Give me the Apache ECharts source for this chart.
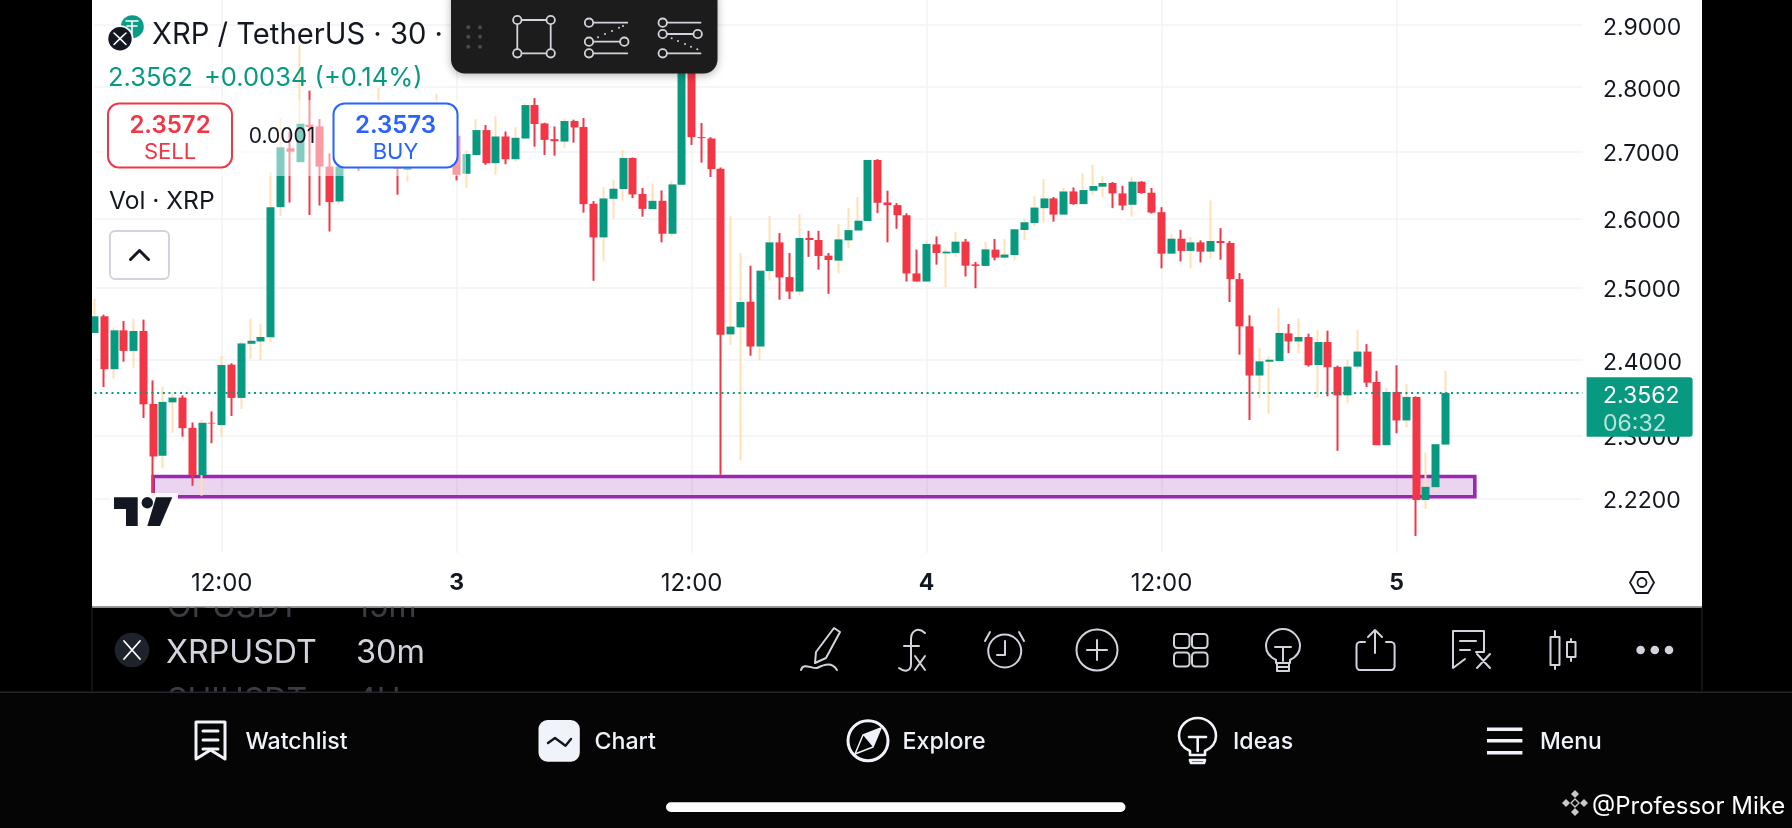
<!doctype html>
<html lang="en">
<head>
	<meta charset="UTF-8">
	<title>XRP / TetherUS 30m</title>
	<style>
		html, body { margin: 0; padding: 0; background: #000; }
		#main { width: 1792px; height: 828px; }
	</style>
	<script src="https://cdn.jsdelivr.net/npm/echarts@6/dist/echarts.min.js"></script>
</head>
<body>
<div id="main"></div>
<script type="text/javascript">
	// bars 30m (those behind the BUY box are estimated)
	var opens = [2.4373,2.4603,2.3879,2.4409,2.4127,2.44,2.3415,2.274,2.3436,2.3499,2.3101,2.2493,2.3167,
		2.3137,2.394,2.3495,2.4224,2.4256,2.4312,2.6167,2.7051,2.684,2.7414,2.7387,2.6774,2.6251,
		2.6815,2.7149,2.7025,2.718,2.7414,2.7103,2.6725,2.7258,2.7103,2.7336,2.7569,2.7243,
		2.6665,2.6949,2.7331,2.6825,2.7232,2.6885,2.7201,2.772,2.7434,2.7191,2.7154,2.7471,2.7378,
		2.6217,2.5724,2.6291,2.6436,2.6904,2.6362,2.6138,2.6261,2.5777,2.6501,2.8439,2.7222,2.7201,
		2.674,2.4353,2.445,2.4806,2.4187,2.524,2.5652,2.5154,2.4949,2.5715,2.5686,2.546,2.5388,
		2.5681,2.5824,2.5964,2.6874,2.6236,2.6197,2.6048,2.5206,2.5091,2.5623,2.5493,2.5499,2.5662,
		2.5335,2.5313,2.5547,2.5432,2.5469,2.5832,2.5935,2.6152,2.6296,2.6057,2.64,2.6212,2.6411,
		2.6471,2.6526,2.6371,2.6202,2.6546,2.6381,2.6093,2.5489,2.5705,2.5528,2.5652,2.5518,2.5672,
		2.5643,2.5125,2.4464,2.3794,2.398,2.399,2.4367,2.4256,2.4317,2.3936,2.4248,2.391,2.3529,
		2.3914,2.4118,2.3707,2.2876,2.3574,2.3198,2.3508,2.2179,2.234,2.2884];
	var closes = [2.4603,2.3879,2.4409,2.4127,2.44,2.341,2.2731,2.3442,2.3499,2.3097,2.2493,2.3167,2.3158,
		2.3936,2.3495,2.4229,2.4266,2.4317,2.6167,2.7067,2.6999,2.7429,2.7378,2.6774,2.6242,2.6774,
		2.718,2.6874,2.7336,2.7414,2.7025,2.674,2.7025,2.6949,2.7414,2.7569,2.7243,2.665,
		2.6964,2.7331,2.6825,2.7232,2.6885,2.7212,2.772,2.7425,2.718,2.716,2.7471,2.7372,2.6212,
		2.5724,2.6296,2.6441,2.6904,2.6356,2.6142,2.6261,2.5777,2.6505,2.8439,2.7222,2.7207,2.6735,
		2.4349,2.446,2.4802,2.4187,2.5245,2.5652,2.5148,2.4949,2.5715,2.5686,2.5456,2.5398,2.5695,
		2.583,2.5968,2.6874,2.6232,2.6197,2.6048,2.5206,2.5091,2.5629,2.5499,2.5518,2.5662,2.5316,
		2.5313,2.5551,2.5432,2.5476,2.5842,2.5945,2.6161,2.6296,2.6057,2.64,2.6212,2.6421,2.6481,
		2.6526,2.6371,2.6191,2.6546,2.6377,2.6087,2.5489,2.5705,2.5528,2.5652,2.5518,2.5672,2.5643,
		2.5125,2.4464,2.3794,2.3985,2.4007,2.4373,2.4256,2.4317,2.3932,2.4248,2.3906,2.3529,2.3914,
		2.4118,2.3698,2.2876,2.3574,2.3198,2.3508,2.2179,2.2344,2.2889,2.3562];
	var lows = [2.4373,2.3641,2.3755,2.398,2.3893,2.323,2.2242,2.2578,2.3038,2.2986,2.2357,2.2233,2.2902,
		2.2986,2.3256,2.3349,2.4021,2.4003,2.4242,2.6037,2.6236,2.684,2.6052,2.6191,2.581,2.6212,
		2.6756,2.671,2.6874,2.6949,2.6874,2.6351,2.6546,2.6874,2.6949,2.718,2.7025,2.6565,
		2.6451,2.6934,2.68,2.665,2.681,2.6849,2.7201,2.7076,2.6949,2.6939,2.7061,2.7139,2.6087,
		2.5101,2.5378,2.6003,2.6251,2.6302,2.6027,2.6138,2.5652,2.5738,2.6501,2.7103,2.6834,2.6616,
		2.2497,2.4211,2.268,2.4062,2.4003,2.5105,2.4834,2.4843,2.4903,2.5442,2.5259,2.4917,2.5206,
		2.5565,2.5824,2.5964,2.6078,2.5652,2.5849,2.5091,2.5091,2.5091,2.5331,2.501,2.5442,2.5163,
		2.4996,2.5313,2.5393,2.5432,2.5393,2.5681,2.5892,2.594,2.5954,2.6057,2.6202,2.6212,2.6351,
		2.6317,2.6152,2.6122,2.6027,2.6366,2.6072,2.5278,2.5489,2.5378,2.5278,2.5364,2.5422,2.5403,
		2.4802,2.4076,2.3203,2.3495,2.3287,2.399,2.4096,2.4096,2.3914,2.3503,2.3516,2.2803,2.3428,
		2.3883,2.3641,2.2876,2.2876,2.3031,2.311,2.1732,2.2066,2.2289,2.2884];
	var highs = [2.4848,2.4626,2.445,2.4539,2.4571,2.4557,2.3728,2.3641,2.3552,2.3529,2.3171,2.3203,2.3317,
		2.4062,2.3959,2.4242,2.4571,2.4492,2.6691,2.7518,2.731,2.868,2.7947,2.7502,2.6975,2.6874,
		2.7414,2.7336,2.7492,2.7989,2.7616,2.7336,2.7336,2.7367,2.7523,2.7896,2.7725,2.7414,
		2.7025,2.7502,2.7409,2.7543,2.731,2.7378,2.7751,2.7829,2.7445,2.7387,2.7507,2.7492,2.7518,
		2.6257,2.6466,2.6575,2.7025,2.6912,2.6451,2.6516,2.6415,2.656,2.8471,2.8471,2.744,2.7222,
		2.6759,2.6036,2.5499,2.5316,2.5245,2.6036,2.5787,2.5499,2.6067,2.582,2.582,2.5499,2.5921,
		2.6157,2.6317,2.6874,2.6885,2.6411,2.6227,2.6078,2.5547,2.5676,2.5738,2.5561,2.5806,2.5701,
		2.537,2.5662,2.5701,2.5703,2.5842,2.5997,2.6326,2.6586,2.6317,2.6451,2.646,2.6676,2.68,
		2.6625,2.6541,2.6486,2.6616,2.6553,2.6451,2.6167,2.5777,2.5835,2.5729,2.5681,2.6266,2.5859,
		2.5672,2.5211,2.4616,2.4165,2.4058,2.4723,2.4497,2.4575,2.4363,2.4418,2.4404,2.3927,2.4003,
		2.4418,2.422,2.3857,2.3627,2.3932,2.368,2.3516,2.2782,2.2889,2.3857];

	var tickSlots = [13, 37, 61, 85, 109, 133];
	var tickLabels = ['12:00', '3', '12:00', '4', '12:00', '5'];
	var priceTicks = [2.9, 2.8, 2.7, 2.6, 2.5, 2.4, 2.3, 2.22];
	var lastPrice = 2.3562;
	var zoneLow = 2.222;
	var zoneHigh = 2.2476;
	var zoneFrom = 6;
	var zoneTo = 141;
	var emptySlots = 14; // room right of the last bar

	var UP = '#089981', DOWN = '#F23645', UP_WICK = '#FFE0B2', INK = '#131722', ICON = '#D1D4DC';
	var FONT = 'Inter, "Noto Sans", sans-serif';

	var categories = [];
	for (var n = 0; n < opens.length + emptySlots; n++) categories.push('b' + n);

	var wickData = [], bodyData = [];
	for (var k = 0; k < opens.length; k++) {
		wickData.push([opens[k], closes[k], lows[k], highs[k]]);
		bodyData.push([opens[k], closes[k], Math.min(opens[k], closes[k]), Math.max(opens[k], closes[k])]);
	}

	// overlay shapes, drawn in array order on top of the plot
	var g = [];
	var pathCount = 0;
	function rect(x, y, w, h, fill, r, stroke, lw) {
		g.push({ type: 'rect', z: 100, silent: true, shape: { x: x, y: y, width: w, height: h, r: r || 0 },
			style: { fill: fill, stroke: stroke || null, lineWidth: lw || 0 } });
	}
	function circle(cx, cy, r, fill, stroke, lw) {
		g.push({ type: 'circle', z: 100, silent: true, shape: { cx: cx, cy: cy, r: r },
			style: { fill: fill, stroke: stroke || null, lineWidth: lw || 0 } });
	}
	// the graphic component has no svg path type, so each icon is registered as a shape
	function path(d, stroke, lw, fill) {
		var name = 'icon' + (pathCount++);
		echarts.graphic.registerShape(name, echarts.graphic.extendPath(d, {}));
		g.push({ type: name, z: 100, silent: true, shape: {},
			style: { fill: fill || null, stroke: stroke || null, lineWidth: lw || 0, lineCap: 'round', lineJoin: 'round' } });
	}
	function text(s, x, y, size, color, weight, align) {
		g.push({ type: 'text', z: 100, silent: true,
			style: { text: s, x: x, y: y, fill: color, font: (weight || 400) + ' ' + size + 'px ' + FONT,
				textAlign: align || 'left', textVerticalAlign: 'middle', align: align || 'left', verticalAlign: 'middle' } });
	}

	// legend backdrop fades the candles behind it
	rect(100, 100, 366, 76, 'rgba(255,255,255,0.5)');

	// outside the pane
	rect(0, 0, 92, 828, '#000');
	rect(1702, 0, 90, 828, '#000');

	// symbols sliding in the list behind the bar
	rect(92, 607.5, 1610, 85, '#000');
	text('OPUSDT', 167, 607, 32, '#3a3d44');
	text('15m', 356, 607, 32, '#3a3d44');
	rect(92, 592, 1610, 14, '#fff');
	rect(92, 606, 1610, 1.5, '#999');
	text('SUIUSDT', 167, 701, 32, '#3a3d44');
	text('4H', 356, 701, 32, '#3a3d44');
	rect(0, 692, 1792, 136, '#050505');
	rect(0, 691.5, 1792, 1.5, '#24262b');
	rect(91.5, 607.5, 1, 84, '#24262b');
	rect(1701.5, 607.5, 1, 84, '#24262b');

	// legend
	circle(132.3, 26.7, 11.5, '#0A9C86');
	path('M126 21 L138 21 M132 21 L132 33 M127 26 L137 26', '#fff', 1.6);
	circle(120, 38.7, 13.5, '#fff');
	circle(120, 38.7, 11.7, '#131722');
	path('M114 33 L120 38.7 L126 33 M114 44.5 L120 38.7 L126 44.5', '#fff', 1.6);
	text('XRP / TetherUS · 30 ·', 152, 35.3, 29.2, INK);
	text('2.3562', 108, 78, 25.5, UP);
	text('+0.0034 (+0.14%)', 204, 78, 25.5, UP);
	rect(108, 103.5, 124, 64, '#fff', 11, DOWN, 2);
	text('2.3572', 170, 126, 24, DOWN, 600, 'center');
	text('SELL', 170, 152, 22, DOWN, 400, 'center');
	text('0.0001', 282, 137, 21, INK, 400, 'center');
	rect(333.5, 103.5, 124, 64, '#fff', 11, '#2962FF', 2);
	text('2.3573', 395.5, 126, 24, '#2962FF', 600, 'center');
	text('BUY', 395.5, 152, 22, '#2962FF', 400, 'center');
	text('Vol · XRP', 109, 202, 24.6, INK);
	rect(110, 231, 59, 48, '#fff', 5, '#D1D4DC', 2);
	path('M130.5 259.5 L139.5 250.5 L148.5 259.5', INK, 3);

	// drawing toolbar
	g.push({ type: 'rect', z: 100, silent: true, shape: { x: 451, y: -14, width: 266.5, height: 87.5, r: 14 },
		style: { fill: '#1C1C1C', shadowBlur: 8, shadowColor: 'rgba(0,0,0,0.3)', shadowOffsetY: 2 } });
	[468.3, 480].forEach(function (x) {
		[27.3, 36.7, 46.7].forEach(function (y) { circle(x, y, 2, '#4A4A4F'); });
	});
	path('M517.3 20 L550.7 20 L550.7 53.3 L517.3 53.3 Z', ICON, 1.8);
	[[517.3, 20], [550.7, 20], [517.3, 53.3], [550.7, 53.3]].forEach(function (c) { circle(c[0], c[1], 4.2, '#1C1C1C', ICON, 1.8); });
	path('M593.5 22.7 L627.3 22.7 M593.5 41.7 L620 41.7 M593.5 53.3 L627.3 53.3', ICON, 1.8);
	[[589, 22.7], [589, 41.7], [624.3, 41.7], [589, 53.3]].forEach(function (c) { circle(c[0], c[1], 4.2, '#1C1C1C', ICON, 1.8); });
	[[598, 37.3], [605, 34], [612, 31], [619, 27.7], [623, 26]].forEach(function (c) { circle(c[0], c[1], 1, ICON); });
	path('M667 22.7 L700.5 22.7 M667 34 L693.5 34 M667 53.3 L700.5 53.3', ICON, 1.8);
	[[662.7, 22.7], [662.7, 34], [697.7, 34], [662.7, 53.3]].forEach(function (c) { circle(c[0], c[1], 4.2, '#1C1C1C', ICON, 1.8); });
	[[671.7, 38.3], [678, 41], [685, 44], [691, 46.7], [697.3, 49.3]].forEach(function (c) { circle(c[0], c[1], 1, ICON); });

	// logo
	rect(110, 493, 68, 37, 'rgba(255,255,255,0.95)');
	path('M114 497.3 L137.7 497.3 L137.7 526 L126 526 L126 509 L114 509 Z', null, 0, INK);
	circle(147.3, 502.7, 5.7, INK);
	path('M156 497.3 L172.3 497.3 L160 526 L147.3 526 Z', null, 0, INK);

	// last price tag
	rect(1586.6, 377.3, 106, 59.4, UP, [0, 3, 3, 0]);
	text(lastPrice.toFixed(4), 1603, 395.7, 23, '#fff');
	text('06:32', 1603, 423.7, 23, 'rgba(255,255,255,0.72)');

	// axis settings
	path('M1630 582.5 L1636 572 L1648 572 L1654 582.5 L1648 593 L1636 593 Z', INK, 1.8);
	circle(1642, 582.5, 4.5, null, INK, 1.8);

	// bottom toolbar
	circle(132, 650, 17.3, '#1E222B');
	path('M124 641 L132 650 L140 641 M124 659 L132 650 L140 659', '#fff', 1.8);
	text('XRPUSDT', 166, 653, 32.2, ICON);
	text('30m', 356, 653, 32.5, ICON);
	path('M834 628 L840 632 L826 658 L815 663 L816 652 Z M801 670 C803 662 812 669 817 668 C825 664 832 662 837 670', ICON, 2);
	path('M925 633 C917 626 911 632 911 639 L911 664 C911 672 904 672 899 668 M904 646 L919 646 M915 656 L925 670 M925 656 L915 670', ICON, 2);
	circle(1004.7, 651, 16.5, null, ICON, 2);
	path('M1005 641 L1005 655 L997 655 M985 641 L990 632 M1019 632 L1024 641', ICON, 2);
	circle(1097, 650, 20.5, null, ICON, 2);
	path('M1097 640 L1097 660 M1087 650 L1107 650', ICON, 2);
	rect(1174, 634, 15.5, 14, null, 3.5, ICON, 2);
	rect(1192, 634, 15.5, 14, null, 3.5, ICON, 2);
	rect(1174, 652.5, 15.5, 14, null, 3.5, ICON, 2);
	rect(1192, 652.5, 15.5, 14, null, 3.5, ICON, 2);
	path('M1276 663 L1276 660 C1270 657 1266 652 1266 646 C1266 637 1274 629 1283 629 C1292 629 1300 637 1300 646 C1300 652 1296 657 1290 660 L1290 663 Z M1275 647 L1291 647 M1283 647 L1283 661 M1277 663 L1277 671 L1289 671 L1289 663 M1277 667 L1289 667', ICON, 2);
	path('M1365 642 L1360 642 C1358 642 1356.5 644 1356.5 646 L1356.5 666 C1356.5 668 1358 670 1360 670 L1391 670 C1393 670 1394.6 668 1394.6 666 L1394.6 646 C1394.6 644 1393 642 1391 642 L1386 642 M1375 653 L1375 630 M1368 637 L1375 630 L1382 637', ICON, 2);
	path('M1476 652 L1484 652 L1484 631 L1453 631 L1453 668 L1465 659 M1460 641 L1476 641 M1460 650 L1470 650 M1477 654 L1490 668 M1490 654 L1477 668', ICON, 2);
	path('M1555 631 L1555 637 M1555 665 L1555 669 M1550.5 637 L1559.5 637 L1559.5 665 L1550.5 665 Z M1571 639 L1571 642 M1571 657 L1571 661 M1567 642 L1575.5 642 L1575.5 657 L1567 657 Z', ICON, 2);
	[1640.6, 1654.8, 1669].forEach(function (x) { circle(x, 650, 4.3, ICON); });

	// bottom navigation
	var NAV = '#F0F3FA';
	path('M196 722 L225 722 L225 759 L210.5 750 L196 759 Z', NAV, 3);
	path('M203 731 L218 731 M203 740 L218 740 M203 749 L218 749', NAV, 3);
	text('Watchlist', 245.5, 742.5, 23.2, NAV, 500);
	rect(538.5, 720, 41.3, 41.7, NAV, 9);
	path('M548 743 L555 738 L565.5 745.7 L571 739', '#131722', 2.4);
	text('Chart', 594.5, 742.5, 23.2, NAV, 500);
	circle(868, 740.7, 20, null, NAV, 3);
	path('M881 728 L873 747 L855 754 L863 735 Z', NAV, 1.5);
	path('M881 728 L873 747 L863 735 Z', null, 0, NAV);
	text('Explore', 902.5, 742.5, 23.2, NAV, 500);
	path('M1190 755 L1190 751 C1183 748 1179 742 1179 736 C1179 726 1187 718 1197.7 718 C1208 718 1216 726 1216 736 C1216 742 1212 748 1205 751 L1205 755 Z M1189 737 L1206 737 M1197.7 737 L1197.7 751 M1190 760 L1205 760 L1204 763 L1191 763 Z', NAV, 2.6);
	text('Ideas', 1233, 742.5, 23.2, NAV, 500);
	rect(1487, 727.5, 35.4, 3.6, NAV);
	rect(1487, 739, 35.4, 3.6, NAV);
	rect(1487, 751, 35.4, 3.6, NAV);
	text('Menu', 1540, 742.5, 22.8, NAV, 500);
	rect(666, 802.3, 459.5, 9.7, '#fff', 5);

	// watermark
	var MARK = '#C9C9C9';
	path('M1575 790 L1579 794 L1575 798 L1571 794 Z M1575 808 L1579 812 L1575 816 L1571 812 Z M1566 799 L1570 803 L1566 807 L1562 803 Z M1584 799 L1588 803 L1584 807 L1580 803 Z', null, 0, MARK);
	path('M1575 799 L1579 803 L1575 807 L1571 803 Z', MARK, 1.4);
	text('@Professor Mike', 1592, 807, 24, '#fff');

	var option = {
		animation: false,
		backgroundColor: '#fff',
		textStyle: { fontFamily: FONT },
		grid: { left: 94.43, right: 209.5, top: 0, height: 553, containLabel: false },
		xAxis: {
			type: 'category',
			data: categories,
			boundaryGap: false,
			axisLine: { show: false },
			axisTick: { show: false },
			splitLine: {
				show: true,
				interval: function (i) { return tickSlots.indexOf(i) >= 0; },
				lineStyle: { color: '#F2F3F5', width: 1.5 }
			},
			axisLabel: {
				interval: function (i) { return tickSlots.indexOf(i) >= 0; },
				formatter: function (v, i) {
					var s = tickLabels[tickSlots.indexOf(i)];
					return s && s.length === 1 ? '{day|' + s + '}' : s;
				},
				margin: 19,
				color: INK,
				fontSize: 24,
				fontFamily: FONT,
				rich: { day: { fontSize: 23, fontWeight: 700, fontFamily: FONT, color: INK } }
			}
		},
		yAxis: {
			type: 'log',
			position: 'right',
			min: 2.1525,
			max: 2.9414,
			axisLine: { show: false },
			axisTick: { show: false, customValues: priceTicks },
			splitLine: { show: true, lineStyle: { color: '#F2F3F5', width: 1.5 } },
			axisLabel: {
				customValues: priceTicks,
				formatter: function (v) { return Number(v).toFixed(4); },
				margin: 20.5,
				lineHeight: 5,
				verticalAlign: 'top',
				color: INK,
				fontSize: 23,
				fontFamily: FONT
			}
		},
		graphic: { elements: g },
		series: [
			{
				// wicks only, the bodies go on top
				type: 'candlestick',
				data: wickData,
				clip: false,
				barWidth: 1,
				z: 2,
				itemStyle: { color: 'transparent', color0: 'transparent', borderColor: UP_WICK, borderColor0: DOWN, borderColorDoji: DOWN, borderWidth: 2 },
				markArea: {
					silent: true,
					precision: 4,
					itemStyle: { color: 'rgba(156,39,176,0.2)', borderColor: '#9C27B0', borderWidth: 3.6 },
					data: [[
						{ xAxis: categories[zoneFrom], yAxis: zoneHigh },
						{ xAxis: categories[zoneTo], yAxis: zoneLow }
					]]
				}
			},
			{
				type: 'candlestick',
				data: bodyData,
				clip: false,
				barWidth: 8.5,
				z: 3,
				itemStyle: { color: UP, color0: DOWN, borderColor: UP, borderColor0: DOWN, borderColorDoji: DOWN, borderWidth: 0 },
				markLine: {
					silent: true,
					symbol: 'none',
					precision: 4,
					label: { show: false },
					lineStyle: { color: UP, width: 2, type: [2, 3.7] },
					data: [{ yAxis: lastPrice }]
				}
			}
		]
	};

	var myChart = echarts.init(document.getElementById('main'));
	myChart.setOption(option);
</script>
</body>
</html>
